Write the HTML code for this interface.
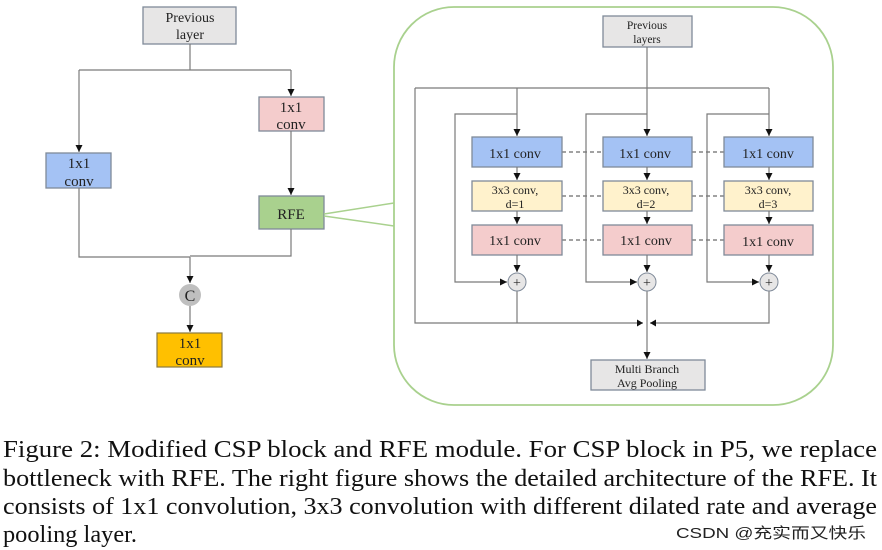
<!DOCTYPE html>
<html><head><meta charset="utf-8"><style>
html,body{margin:0;padding:0;background:#fff;}
svg{display:block}
.bx{stroke:#7f8a99;stroke-width:1.3}
.ln{stroke:#7a7a7a;stroke-width:1.2;fill:none}
.ds{stroke:#444;stroke-width:1;stroke-dasharray:4,3;fill:none}
text{font-family:"Liberation Serif",serif;fill:#222}
.cap{font-size:24px;fill:#111}
</style></head><body>
<svg width="882" height="550" viewBox="0 0 882 550" xmlns="http://www.w3.org/2000/svg">
<defs><marker id="a" markerWidth="8" markerHeight="8" refX="7" refY="4" orient="auto" markerUnits="userSpaceOnUse"><path d="M0,0.5 L7,4 L0,7.5z" fill="#111"/></marker></defs>

<rect x="143" y="7" width="93" height="37" fill="#e7e6e6" class="bx"/>
<text x="190" y="22" font-size="14" text-anchor="middle">Previous</text>
<text x="190" y="39" font-size="14" text-anchor="middle">layer</text>
<path class="ln" d="M190,44 V70 M79,70 H291"/>
<path class="ln" d="M79,70 V152" marker-end="url(#a)"/>
<path class="ln" d="M291,70 V96" marker-end="url(#a)"/>
<rect x="259" y="97" width="65" height="34" fill="#f4cccc" class="bx"/>
<text x="291" y="112" font-size="15" text-anchor="middle">1x1</text>
<text x="291" y="129" font-size="15" text-anchor="middle">conv</text>
<rect x="46" y="153" width="65" height="35" fill="#a4c2f4" class="bx"/>
<text x="79" y="168" font-size="15" text-anchor="middle">1x1</text>
<text x="79" y="186" font-size="15" text-anchor="middle">conv</text>
<path class="ln" d="M291,131 V195" marker-end="url(#a)"/>
<rect x="259" y="196" width="65" height="33" fill="#a9d18e" class="bx"/>
<text x="291" y="219" font-size="15" text-anchor="middle">RFE</text>
<path class="ln" d="M79,188 V257 H190 M291,229 V256 H190"/>
<path class="ln" d="M190,257 V283" marker-end="url(#a)"/>
<circle cx="190" cy="295" r="11" fill="#bfbfbf"/>
<text x="190" y="301" font-size="16" text-anchor="middle">C</text>
<path class="ln" d="M190,306 V332" marker-end="url(#a)"/>
<rect x="157" y="333" width="65" height="34" fill="#ffc000" stroke="#8a7a40" stroke-width="1.2"/>
<text x="190" y="348" font-size="15" text-anchor="middle">1x1</text>
<text x="190" y="365" font-size="15" text-anchor="middle">conv</text>
<path d="M324,214 L394,203 M324,216 L394,226" stroke="#a9d18e" stroke-width="1.5" fill="none"/>

<rect x="394" y="7" width="439" height="398" rx="60" ry="60" fill="none" stroke="#a9d18e" stroke-width="1.8"/>
<rect x="603" y="16" width="89" height="31" fill="#e7e6e6" class="bx"/>
<text x="647" y="29" font-size="11.5" text-anchor="middle">Previous</text>
<text x="647" y="43" font-size="11.5" text-anchor="middle">layers</text>
<path class="ln" d="M647,47 V136" marker-end="url(#a)"/>
<path class="ln" d="M415,88 H769 M415,88 V323 H643"/>
<path class="ln" d="M517,88 V136" marker-end="url(#a)"/>
<path class="ln" d="M769,88 V136" marker-end="url(#a)"/>
<path class="ln" d="M769,291 V323 H650"/>
<path d="M643,323 l-6,-3.5 v7z M650,323 l6,-3.5 v7z" fill="#111"/>
<path class="ln" d="M517,291 V323"/>
<path class="ln" d="M647,291 V359" marker-end="url(#a)"/>
<rect x="591" y="360" width="114" height="30" fill="#e7e6e6" class="bx"/>
<text x="647" y="373" font-size="12" text-anchor="middle">Multi Branch</text>
<text x="647" y="387" font-size="12" text-anchor="middle">Avg Pooling</text>

<path class="ds" d="M562,152 H603 M692,152 H724 M562,196 H603 M692,196 H724 M562,240 H603 M692,240 H724"/>

<g>
<path class="ln" d="M517,114 H455 V282 H507" marker-end="url(#a)"/>
<rect x="472" y="137" width="90" height="30" fill="#a4c2f4" class="bx"/>
<text x="515" y="158" font-size="14" text-anchor="middle">1x1 conv</text>
<path class="ln" d="M517,167 V180" marker-end="url(#a)"/>
<rect x="472" y="181" width="90" height="30" fill="#fff2cc" class="bx"/>
<text x="515" y="194" font-size="12" text-anchor="middle">3x3 conv,</text>
<text x="515" y="208" font-size="12" text-anchor="middle">d=1</text>
<path class="ln" d="M517,211 V224" marker-end="url(#a)"/>
<rect x="472" y="225" width="90" height="30" fill="#f4cccc" class="bx"/>
<text x="515" y="245" font-size="14" text-anchor="middle">1x1 conv</text>
<path class="ln" d="M517,255 V272" marker-end="url(#a)"/>
<circle cx="517" cy="282" r="9" fill="#e7e6e6" stroke="#7f8a99"/>
<text x="517" y="287" font-size="14" text-anchor="middle">+</text>
</g>
<g>
<path class="ln" d="M647,114 H586 V282 H637" marker-end="url(#a)"/>
<rect x="603" y="137" width="89" height="30" fill="#a4c2f4" class="bx"/>
<text x="645" y="158" font-size="14" text-anchor="middle">1x1 conv</text>
<path class="ln" d="M647,167 V180" marker-end="url(#a)"/>
<rect x="603" y="181" width="89" height="30" fill="#fff2cc" class="bx"/>
<text x="646" y="194" font-size="12" text-anchor="middle">3x3 conv,</text>
<text x="646" y="208" font-size="12" text-anchor="middle">d=2</text>
<path class="ln" d="M647,211 V224" marker-end="url(#a)"/>
<rect x="603" y="225" width="89" height="30" fill="#f4cccc" class="bx"/>
<text x="646" y="245" font-size="14" text-anchor="middle">1x1 conv</text>
<path class="ln" d="M647,255 V272" marker-end="url(#a)"/>
<circle cx="647" cy="282" r="9" fill="#e7e6e6" stroke="#7f8a99"/>
<text x="647" y="287" font-size="14" text-anchor="middle">+</text>
</g>
<g>
<path class="ln" d="M769,114 H707 V282 H759" marker-end="url(#a)"/>
<rect x="724" y="137" width="89" height="30" fill="#a4c2f4" class="bx"/>
<text x="768" y="158" font-size="14" text-anchor="middle">1x1 conv</text>
<path class="ln" d="M769,167 V180" marker-end="url(#a)"/>
<rect x="724" y="181" width="89" height="30" fill="#fff2cc" class="bx"/>
<text x="768" y="194" font-size="12" text-anchor="middle">3x3 conv,</text>
<text x="768" y="208" font-size="12" text-anchor="middle">d=3</text>
<path class="ln" d="M769,211 V224" marker-end="url(#a)"/>
<rect x="724" y="225" width="89" height="30" fill="#f4cccc" class="bx"/>
<text x="768" y="246" font-size="14" text-anchor="middle">1x1 conv</text>
<path class="ln" d="M769,255 V272" marker-end="url(#a)"/>
<circle cx="769" cy="282" r="9" fill="#e7e6e6" stroke="#7f8a99"/>
<text x="769" y="287" font-size="14" text-anchor="middle">+</text>
</g>

<text class="cap" x="3" y="457" textLength="874" lengthAdjust="spacingAndGlyphs">Figure 2:  Modified CSP block and RFE module.  For CSP block in P5, we replace</text>
<text class="cap" x="3" y="486" textLength="874" lengthAdjust="spacingAndGlyphs">bottleneck with RFE. The right figure shows the detailed architecture of the RFE. It</text>
<text class="cap" x="3" y="514" textLength="874" lengthAdjust="spacingAndGlyphs">consists of 1x1 convolution, 3x3 convolution with different dilated rate and average</text>
<text class="cap" x="3" y="542" textLength="134" lengthAdjust="spacingAndGlyphs">pooling layer.</text>
<text x="676" y="538" font-size="15" fill="#aaa" style="font-family:'Liberation Sans','Noto Sans CJK SC',sans-serif" textLength="190" lengthAdjust="spacingAndGlyphs">CSDN @充实而又快乐</text>
</svg>
</body></html>
